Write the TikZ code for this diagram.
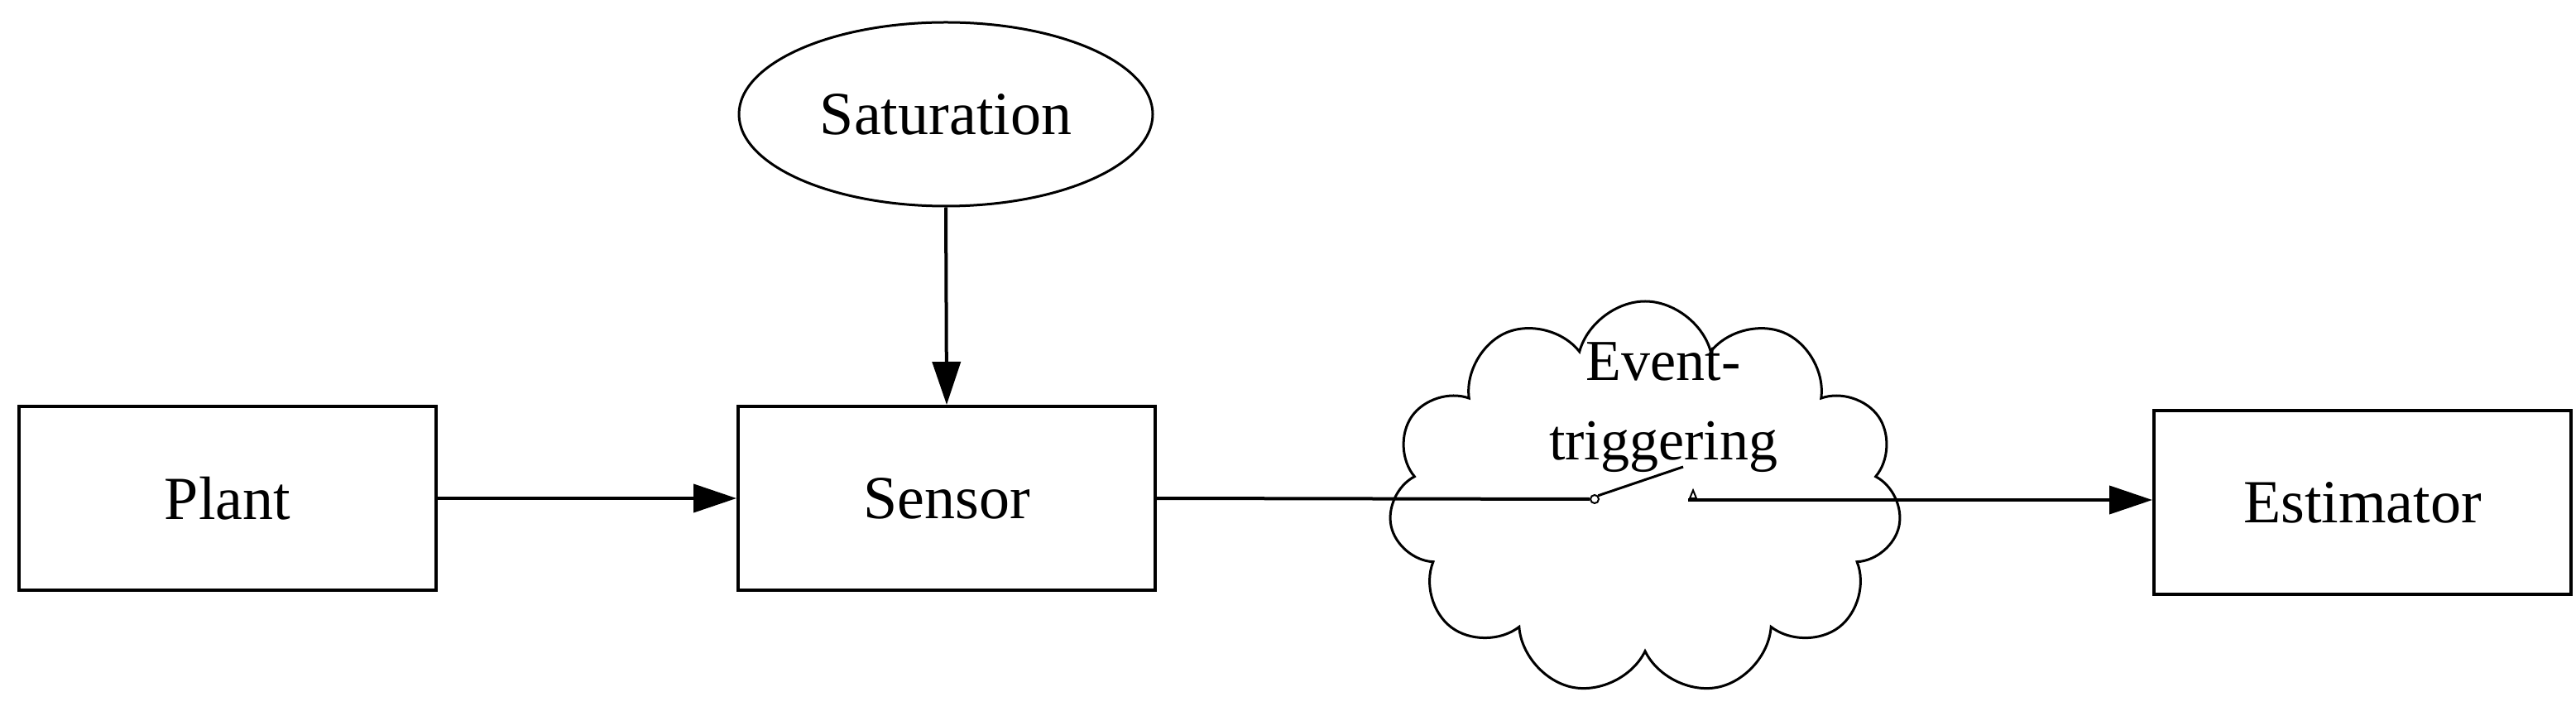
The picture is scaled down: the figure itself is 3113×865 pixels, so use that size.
\documentclass[tikz,border=0pt]{standalone}
\usepackage{fontspec}
\setmainfont{Liberation Serif}
\usetikzlibrary{shapes.geometric,shapes.symbols,arrows.meta}
\begin{document}
\begin{tikzpicture}[x=0.5pt,y=-0.5pt,
  box/.style={draw,line width=2pt,minimum width=252pt,minimum height=111pt,inner sep=0pt,font=\fontsize{37}{40}\selectfont},
  conn/.style={line width=2pt,-{Triangle[length=26pt,width=17pt]}},
  line/.style={line width=2pt}]
\useasboundingbox (0,0) rectangle (3113,865);
\node[box] (plant) at (275,602) {Plant};
\node[box] (sensor) at (1144,602) {Sensor};
\node[box] (est) at (2855,607) {Estimator};
\node[draw,ellipse,line width=1.5pt,minimum width=250pt,minimum height=111pt,inner sep=0pt,font=\fontsize{37}{40}\selectfont] (sat) at (1143,138) {Saturation};
\node[draw,cloud,cloud puffs=11,cloud ignores aspect,line width=1.5pt,minimum width=310pt,minimum height=238pt] (cloud) at (1988,602) {};
\node[font=\fontsize{35}{48}\selectfont,align=center,inner sep=0pt] (lbl) at (2010,492) {Event-\\triggering};
\node[draw,circle,line width=1pt,minimum size=5pt,inner sep=0pt] (sw) at (1927,603) {};
\coordinate (lev) at (2034,564);
\node[draw,isosceles triangle,shape border rotate=90,line width=1pt,minimum width=4pt,minimum height=4pt,inner sep=0pt,anchor=south] (ct) at (2046,603) {};
\coordinate (ctr) at (2040,604);
\draw[conn] (plant.east) -- (sensor.west);
\draw[conn] (sat.south) -- (sensor.north);
\draw[line] (sensor.east) -- (sw.west);
\draw[line width=1.5pt] (sw.north east) -- (lev);
\draw[conn] (ctr) -- (est.west |- ctr);
\end{tikzpicture}
\end{document}
